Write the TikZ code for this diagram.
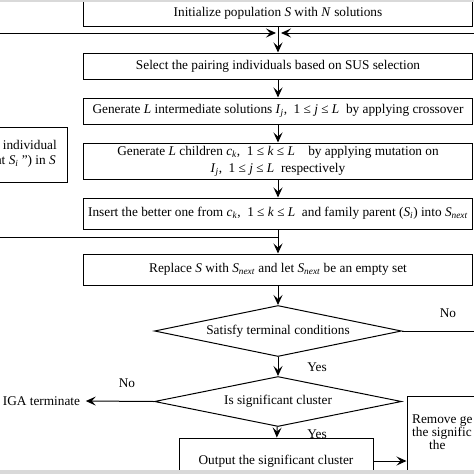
\documentclass[tikz,border=0pt]{standalone}
\usepackage{fontspec}
\setmainfont{Liberation Serif}
\usepackage{amsmath}
\usetikzlibrary{shapes.geometric,arrows.meta}
\newcommand{\vr}[1]{\textit{#1}}
\newcommand{\sbs}[1]{\textsubscript{\textit{#1}}}

\begin{document}
\begin{tikzpicture}[x=1pt,y=-1pt,
		font=\fontsize{13.3}{17}\selectfont,
		box/.style={draw, rectangle, line width=1pt, minimum width=389pt, inner sep=2pt, align=center},
		cond/.style={draw, diamond, aspect=4.84, line width=1pt, minimum width=247pt, minimum height=51pt, inner sep=0pt},
		arr/.style={line width=1pt, -{Stealth[length=10pt, width=9pt, inset=4pt]}},
		ln/.style={line width=1pt}]
			\useasboundingbox (0,0) rectangle (474,474);
			\clip (0,0) rectangle (474,474);
			% Main chain of the loop
			\node[box, minimum height=25pt] (init) at (278,13.5) {Initialize population \vr{S} with \vr{N} solutions};
			\node[box, minimum height=26pt] (select) at (278,66) {Select the pairing individuals based on SUS selection};
			\node[box, minimum height=26pt] (cross) at (278,111) {Generate \vr{L} intermediate solutions \vr{I}\sbs{j},\ \ 1 ≤\ \vr{j} ≤\ \vr{L}\ \ by applying crossover};
			\node[box, minimum height=36pt] (mutate) at (278,161) {Generate \vr{L} children \vr{c}\sbs{k},\ \ 1 ≤ \vr{k} ≤\ \vr{L}\quad by applying mutation on\\ \vr{I}\sbs{j},\ \ 1 ≤\ \vr{j} ≤\ \vr{L}\ \ respectively};
			\node[box, minimum height=31pt] (insert) at (278,213.5) {Insert the better one from \vr{c}\sbs{k},\ \ 1 ≤ \vr{k} ≤\ \vr{L}\ \ and family parent (\vr{S}\sbs{i}) into \vr{S}\sbs{next}};
			\node[box, minimum height=31pt] (replace) at (278,269.5) {Replace \vr{S} with \vr{S}\sbs{next} and let \vr{S}\sbs{next} be an empty set};
			
			\node[cond] (terminal) at (278,331) {Satisfy terminal conditions};
			\node[cond, minimum height=50pt] (signif) at (278,401.5) {Is significant cluster};
			
			\node[box, minimum width=194pt, minimum height=46pt] (output) at (276,461) {Output the significant cluster};
			\node[inner xsep=5.5pt] (iga) at (41.5,401) {IGA terminate};
			
			% Boxes cut by the border
			\node[draw, rectangle, line width=1pt, minimum width=147pt, minimum height=55pt] (mark) at (-6.5,154.5) {};
			\node[anchor=east, inner sep=0pt] (markA) at (57,145) {individual};
			\node[anchor=east, inner sep=0pt] (markB) at (56,161) {nt \vr{S}\sbs{i} '') in \vr{S}};
			\node[draw, rectangle, line width=1pt, minimum width=152pt, minimum height=124pt] (remove) at (483,458) {};
			\node[anchor=west, inner sep=0pt] (remA) at (412,421) {Remove ge};
			\node[anchor=west, inner sep=0pt] (remB) at (412,433) {the signific};
			\node[anchor=west, inner sep=0pt] (remC) at (429,445) {the};
			
			% Return lines
			\coordinate (topL) at (0,33);
			\coordinate (topR) at (474,33);
			\coordinate (topJ) at (278,33);
			\coordinate (midL) at (0,237);
			\coordinate (noEnd) at (474,331);
			
			\draw[arr] (init) -- (select);
			\draw[arr] (topL) -- ([xshift=-2pt]topJ);
			\draw[arr] (topR) -- ([xshift=3pt]topJ);
			\draw[arr] (select) -- (cross);
			\draw[arr] (cross) -- (mutate);
			\draw[arr] (mutate) -- (insert);
			\draw[arr] (insert) -- (replace);
			\draw[ln] (midL) -- (midL -| insert.south);
			\draw[arr] (replace) -- (terminal);
			\draw[ln] (terminal.east) -- (noEnd);
			\draw[arr] (terminal) -- (signif);
			\draw[arr] (signif.west) -- (iga.east);
			\draw[arr] (signif) -- (output);
			\draw[arr] (output.east) -- (output.east -| remove.west);
			
			\node (noA) at (448,313) {No};
			\node (yesA) at (317,367) {Yes};
			\node (noB) at (127,383) {No};
			\node (yesB) at (317,434) {Yes};
			
			\fill[gray!30] (0,0) rectangle (474,1.5);
			\fill[gray!30] (0,470) rectangle (474,474);
		\end{tikzpicture}
\end{document}
